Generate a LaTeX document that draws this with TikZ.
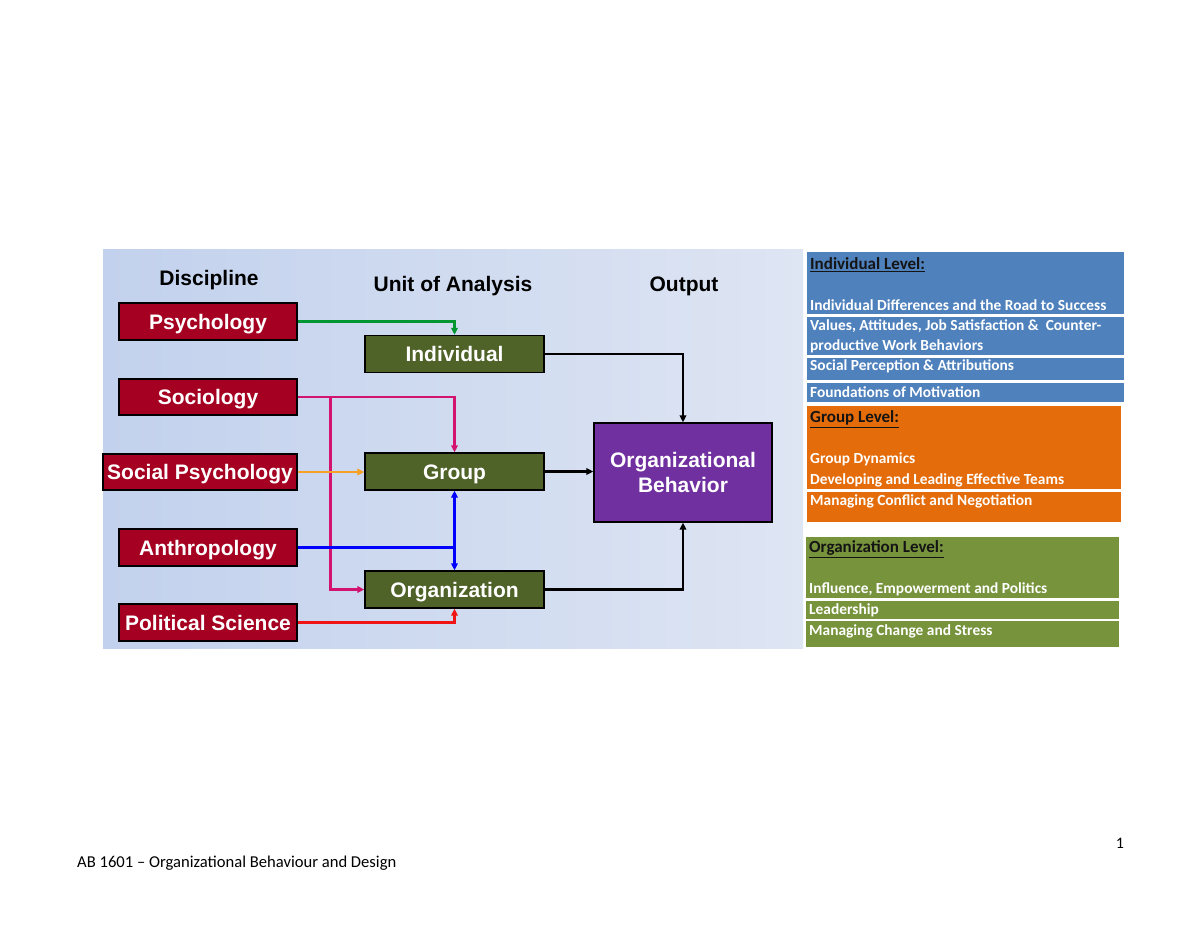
\documentclass[tikz,border=0pt]{standalone}
\usepackage{fontspec}
\setmainfont{Liberation Sans}
\newfontfamily\calfont{Carlito}
\usetikzlibrary{arrows.meta,calc}
\definecolor{bgL}{RGB}{194,209,237}
\definecolor{bgR}{RGB}{222,229,243}
\definecolor{dred}{RGB}{165,0,33}
\definecolor{olive}{RGB}{79,98,40}
\definecolor{purp}{RGB}{112,48,160}
\definecolor{lblue}{RGB}{79,129,189}
\definecolor{lorange}{RGB}{228,108,10}
\definecolor{lgreen}{RGB}{119,147,60}
\definecolor{cgreen}{RGB}{0,150,50}
\definecolor{cmag}{RGB}{210,20,110}
\definecolor{corange}{RGB}{247,160,40}
\definecolor{cblue}{RGB}{0,0,255}
\definecolor{cred}{RGB}{240,20,20}
\definecolor{hdark}{RGB}{20,20,20}
\tikzset{
  big/.style={font=\fontsize{21}{24}\selectfont\bfseries},
  dbox/.style={draw=black, line width=1.3pt, fill=dred, text=white, big, inner sep=0pt, text height=15pt, text depth=0pt},
  ubox/.style={draw=black, line width=1.3pt, fill=olive, text=white, big, inner sep=0pt, minimum width=179, minimum height=37, text height=15pt, text depth=0pt},
  obbox/.style={draw=black, line width=1.3pt, fill=purp, text=white, big, inner sep=0pt, align=center},
  hdr/.style={big, text=black, text height=15pt, text depth=0pt},
  conn/.style={line width=2.5pt, -{Triangle[length=7pt,width=6.5pt]}},
  rtxt/.style={anchor=west, inner sep=0pt, text=white, font=\calfont\fontsize{15.4}{18}\selectfont\bfseries},
  rhdr/.style={anchor=west, inner sep=0pt, text=hdark, font=\calfont\fontsize{17}{20}\selectfont\bfseries},
}
\begin{document}
\begin{tikzpicture}[x=1pt,y=-1pt]
\useasboundingbox (0,0) rectangle (1200,927);
\fill[white] (0,0) rectangle (1200,927);
% background panel
\shade[left color=bgL, right color=bgR] (103,249) rectangle (803,648);

% headers
\node[hdr] (hdisc) at (209,278) {Discipline};
\node[hdr] (hunit) at (453,284) {Unit of Analysis};
\node[hdr] (hout) at (684,284) {Output};

% discipline boxes
\node[dbox, minimum width=178, minimum height=37] (psy) at (208,321.5) {Psychology};
\node[dbox, minimum width=178, minimum height=36] (soc) at (208,397) {Sociology};
\node[dbox, minimum width=194, minimum height=36] (sps) at (200,472) {Social Psychology};
\node[dbox, minimum width=178, minimum height=37] (ant) at (208,547.5) {Anthropology};
\node[dbox, minimum width=178, minimum height=37] (pol) at (208,622.5) {Political Science};

% unit boxes
\node[ubox] (ind) at (454.5,354) {Individual};
\node[ubox] (grp) at (454.5,471.5) {Group};
\node[ubox] (org) at (454.5,589.5) {Organization};

% output
\node[obbox, minimum width=178, minimum height=99] (ob) at (683,472.5) {Organizational\\[1pt]Behavior};

% connectors
\draw[conn, cgreen] (psy.east) -| (ind.north);
\draw[conn, cmag] (soc.east) -| (grp.north);
\coordinate (sb) at ($(soc.east)+(33,0)$);
\draw[conn, cmag] (sb) |- (org.west);
\draw[conn, corange] (sps.east) -- (sps.east -| grp.west);
\draw[conn, cblue] (ant.east) -| (grp.south);
\coordinate (aj) at (ant.east -| grp.south);
\draw[conn, cblue] (aj) -- (org.north);
\draw[conn, cred] (pol.east) -| (org.south);
\draw[conn, black] (ind.east) -| (ob.north);
\draw[conn, black] (grp.east) -- (grp.east -| ob.west);
\draw[conn, black] (org.east) -| (ob.south);

% right panel: individual level
\fill[lblue] (807,252) rectangle (1124,314);
\fill[lblue] (807,317) rectangle (1124,355);
\fill[lblue] (807,358) rectangle (1124,380);
\fill[lblue] (807,383) rectangle (1124,402);
\node[rhdr] (ihd) at (810,265) {\underline{Individual Level:}};
\node[rtxt] (i1) at (810,305) {Individual Differences and the Road to Success};
\node[rtxt] (i2) at (810,326) {Values, Attitudes, Job Satisfaction \&\ \ Counter-};
\node[rtxt] (i2b) at (810,346) {productive Work Behaviors};
\node[rtxt] (i3) at (810,366) {Social Perception \& Attributions};
\node[rtxt] (i4) at (810,392) {Foundations of Motivation};

% group level
\fill[lorange] (807,406) rectangle (1121,489);
\fill[lorange] (807,492) rectangle (1121,522);
\node[rhdr] (ghd) at (810,419) {\underline{Group Level:}};
\node[rtxt] (g1) at (810,459) {Group Dynamics};
\node[rtxt] (g2) at (810,480) {Developing and Leading Effective Teams};
\node[rtxt] (g3) at (810,501) {Managing Conflict and Negotiation};

% organization level
\fill[lgreen] (806,537) rectangle (1119,598);
\fill[lgreen] (806,601) rectangle (1119,619);
\fill[lgreen] (806,621) rectangle (1119,647);
\node[rhdr] (ohd) at (809,549) {\underline{Organization Level:}};
\node[rtxt] (o1) at (809,589) {Influence, Empowerment and Politics};
\node[rtxt] (o2) at (809,610) {Leadership};
\node[rtxt] (o3) at (809,631) {Managing Change and Stress};

% footer
\node[anchor=west, inner sep=0pt, font=\calfont\fontsize{16.6}{19}\selectfont, text=black] (foot) at (77,863) {AB 1601 – Organizational Behaviour and Design};
\node[inner sep=0pt, font=\calfont\fontsize{16}{19}\selectfont, text=black] (pg) at (1120,843) {1};
\end{tikzpicture}
\end{document}
